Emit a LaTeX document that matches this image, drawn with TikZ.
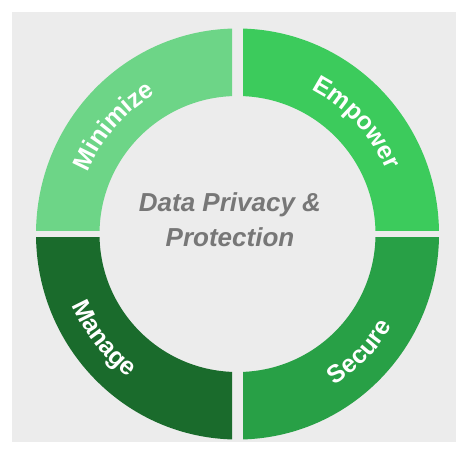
\documentclass[tikz,border=0pt]{standalone}
\usepackage{fontspec}
\setmainfont{Liberation Sans}
\usetikzlibrary{decorations.text}
\definecolor{bggray}{RGB}{236,236,236}
\definecolor{gMin}{RGB}{109,213,135}
\definecolor{gEmp}{RGB}{60,203,92}
\definecolor{gSec}{RGB}{40,160,70}
\definecolor{gMan}{RGB}{26,107,44}
\definecolor{txtgray}{RGB}{119,119,119}
\newcommand\labfont{\bfseries\fontsize{25}{30}\selectfont}
\tikzset{
  ringpart/.style={even odd rule},
  arclabel/.style={decorate, decoration={text along path, text align=center, text color=white}},
}
\begin{document}
\begin{tikzpicture}[x=1pt,y=1pt]
\useasboundingbox (0,0) rectangle (466,451);
\fill[bggray] (12,9) rectangle (456,439);
\coordinate (C) at (237.5,217);
% quadrants
\begin{scope}
  \clip (12,221) rectangle (232,445);
  \fill[gMin,ringpart] (C) ellipse [x radius=201.5, y radius=205.5] (C) circle (138);
\end{scope}
\begin{scope}
  \clip (243,221) rectangle (456,445);
  \fill[gEmp,ringpart] (C) ellipse [x radius=201.5, y radius=205.5] (C) circle (138);
\end{scope}
\begin{scope}
  \clip (243,5) rectangle (456,214);
  \fill[gSec,ringpart] (C) ellipse [x radius=201.5, y radius=205.5] (C) circle (138);
\end{scope}
\begin{scope}
  \clip (12,5) rectangle (232,214);
  \fill[gMan,ringpart] (C) ellipse [x radius=201.5, y radius=205.5] (C) circle (138);
\end{scope}
% labels on arcs
\path[arclabel, decoration={text={|\labfont|Minimize}}] (C) ++(184:162) arc[start angle=184, end angle=94, radius=162];
\path[arclabel, decoration={text={|\labfont|Empower}}] (C) ++(88:162) arc[start angle=88, end angle=-2, radius=162];
\path[arclabel, decoration={text={|\labfont|Manage}}] (C) ++(173:180) arc[start angle=173, end angle=263, radius=180];
\path[arclabel, decoration={text={|\labfont|Secure}}] (C) ++(271:180) arc[start angle=271, end angle=361, radius=180];
% centre text
\node[inner sep=0pt, align=center, text=txtgray, font=\bfseries\itshape\fontsize{26}{35}\selectfont] (title) at (230,231) {Data Privacy \&\\Protection};
\end{tikzpicture}
\end{document}
